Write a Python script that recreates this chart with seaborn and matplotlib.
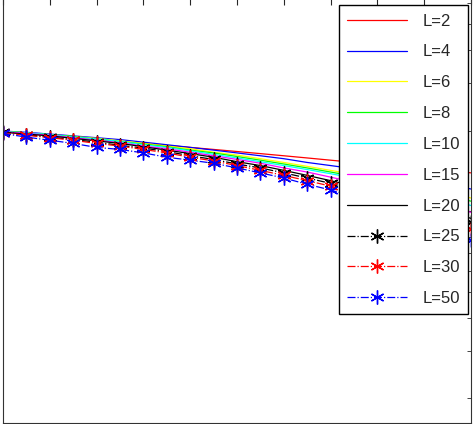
import matplotlib
matplotlib.use("Agg")
import matplotlib.pyplot as plt
import seaborn as sns
import pandas as pd
import numpy as np

x = [i * 0.5 for i in range(21)]
labels = ["L=2", "L=4", "L=6", "L=8", "L=10", "L=15", "L=20", "L=25", "L=30", "L=50"]
v2 = [1.99,1.95,1.92,1.89,1.85,1.82,1.79,1.76,1.73,1.70,1.67,1.64,1.61,1.58,1.55,1.52,1.50,1.47,1.44,1.42,1.39]
v4 = [1.99,1.97,1.94,1.91,1.88,1.85,1.81,1.77,1.73,1.69,1.65,1.61,1.57,1.52,1.48,1.44,1.39,1.35,1.30,1.26,1.21]
v6 = [1.99,1.96,1.93,1.90,1.87,1.83,1.79,1.75,1.71,1.66,1.62,1.57,1.52,1.47,1.42,1.37,1.32,1.27,1.22,1.17,1.12]
v8 = [1.99,1.96,1.93,1.90,1.86,1.82,1.78,1.74,1.69,1.65,1.60,1.55,1.50,1.45,1.40,1.35,1.30,1.25,1.19,1.14,1.09]
v10 = [1.98,1.96,1.93,1.89,1.86,1.82,1.77,1.73,1.68,1.63,1.58,1.53,1.48,1.43,1.38,1.33,1.27,1.22,1.16,1.11,1.05]
v15 = [1.98,1.95,1.92,1.88,1.84,1.80,1.75,1.71,1.66,1.61,1.56,1.51,1.45,1.40,1.34,1.28,1.23,1.17,1.11,1.05,0.99]
v20 = [1.97,1.94,1.91,1.87,1.83,1.79,1.74,1.69,1.64,1.59,1.53,1.48,1.42,1.36,1.30,1.24,1.18,1.12,1.06,1.00,0.94]
v25 = [1.97,1.93,1.89,1.85,1.81,1.76,1.72,1.67,1.61,1.56,1.50,1.45,1.39,1.33,1.27,1.21,1.15,1.09,1.03,0.97,0.91]
v30 = [1.96,1.92,1.88,1.84,1.79,1.75,1.70,1.65,1.59,1.54,1.48,1.42,1.36,1.30,1.24,1.18,1.12,1.06,1.00,0.93,0.86]
v50 = [1.95,1.89,1.84,1.79,1.73,1.70,1.65,1.59,1.55,1.51,1.45,1.39,1.33,1.26,1.20,1.13,1.06,1.00,0.94,0.88,0.78]
series = [v2, v4, v6, v8, v10, v15, v20, v25, v30, v50]
colors = ["#ff0000", "#0000ff", "#ffff00", "#00ff00", "#00ffff", "#ff00ff", "#000000", "#000000", "#ff0000", "#0000ff"]

sns.set_style("white")
fig = plt.figure(figsize=(4.74, 4.24), dpi=100)
ax = fig.add_axes([3/474, 1/424, 468/474, 426/424])

for lab, vals, c in zip(labels, series, colors):
    df = pd.DataFrame({"x": x, "y": vals})
    starred = lab in ("L=25", "L=30", "L=50")
    sns.lineplot(data=df, x="x", y="y", ax=ax, color=c, lw=0.9, label=lab,
                 linestyle="-." if starred else "-",
                 marker=(6, 2, 0) if starred else None, markersize=10,
                 markeredgewidth=1.0, markeredgecolor=c)

ax.set_yscale("log")
ax.set_xlim(0, 10)
ax.set_ylim(0.162, 6.3)
ax.set_xticks(range(0, 11))
ax.set_xticklabels([])
ax.set_yticklabels([], minor=True)
ax.set_yticklabels([])
ax.set_xlabel(""); ax.set_ylabel("")
ax.tick_params(direction="in", which="both", top=True, right=True, length=6)
ax.tick_params(which="minor", length=3)
for s in ax.spines.values():
    s.set_color("#333333"); s.set_linewidth(0.8)
leg = ax.legend(loc="upper right", bbox_to_anchor=(1.012, 1.0), frameon=True, fancybox=False,
                edgecolor="black", fontsize=12, handlelength=3.6, labelspacing=0.95,
                borderpad=0.5, handletextpad=0.9, framealpha=1.0)
leg.get_frame().set_linewidth(1.0)
for t in leg.get_texts():
    t.set_fontfamily("Liberation Sans")
fig.savefig("out.png", dpi=100)
